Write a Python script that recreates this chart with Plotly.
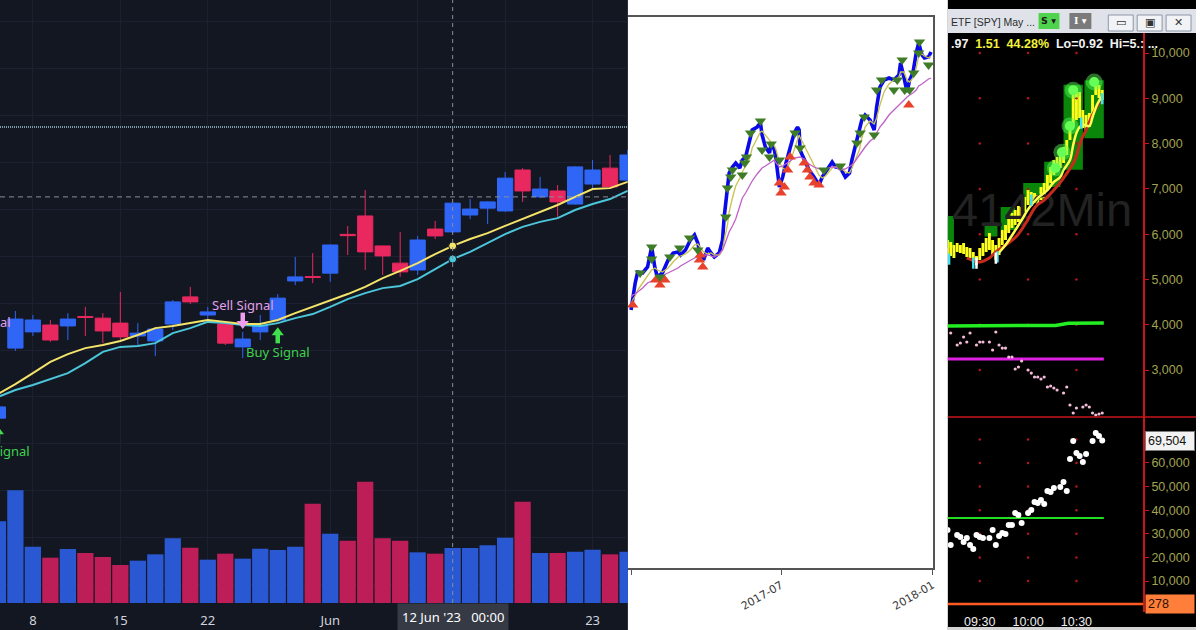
import numpy as np
import pandas as pd
import plotly.graph_objects as go

W, H = 1200, 630


def fx(px):
    return px / W


def fy(py):
    return 1 - py / H


# =========================== Panel A : daily candles (dark theme) ===========================
dates_a = ['2023-05-04', '2023-05-05', '2023-05-08', '2023-05-09', '2023-05-10', '2023-05-11',
           '2023-05-12', '2023-05-15', '2023-05-16', '2023-05-17', '2023-05-18', '2023-05-19',
           '2023-05-22', '2023-05-23', '2023-05-24', '2023-05-25', '2023-05-26', '2023-05-30',
           '2023-05-31', '2023-06-01', '2023-06-02', '2023-06-05', '2023-06-06', '2023-06-07',
           '2023-06-08', '2023-06-09', '2023-06-12', '2023-06-13', '2023-06-14', '2023-06-15',
           '2023-06-16', '2023-06-20', '2023-06-21', '2023-06-22', '2023-06-23', '2023-06-26',
           '2023-06-27']
open_a = [293.2, 315.6, 320.8, 323.0, 322.7, 325.7, 325.2, 323.6, 319.5, 317.9, 323.3, 332.0,
          326.2, 323.3, 316.0, 320.8, 324.6, 337.1, 338.5, 339.6, 352.0, 357.9, 348.3, 342.8,
          340.6, 353.7, 352.8, 358.2, 360.4, 359.5, 372.6, 364.0, 365.9, 361.7, 368.1, 373.2, 369.4]
high_a = [297.7, 327.5, 326.2, 324.6, 326.8, 328.8, 326.8, 333.6, 323.6, 322.4, 331.0, 335.2,
          328.8, 323.6, 320.8, 326.2, 332.9, 344.8, 346.0, 348.8, 354.7, 366.2, 348.4, 352.8,
          351.5, 356.3, 362.2, 363.3, 362.6, 372.0, 373.2, 370.4, 367.8, 373.8, 375.8, 377.4, 379.0]
low_a = [292.3, 314.7, 319.5, 317.6, 318.2, 319.5, 317.2, 318.2, 316.6, 313.1, 321.4, 329.7,
         324.6, 316.6, 312.4, 318.2, 324.0, 335.8, 336.4, 336.8, 345.4, 340.6, 339.0, 338.4,
         339.0, 350.5, 352.4, 356.9, 355.3, 359.2, 362.4, 363.6, 357.6, 361.5, 366.8, 367.0, 368.8]
close_a = [296.8, 324.9, 324.6, 318.2, 324.9, 325.4, 321.1, 319.2, 320.4, 321.7, 330.4, 330.4,
           327.2, 317.2, 318.5, 322.7, 331.6, 338.4, 338.2, 348.6, 351.6, 346.4, 345.1, 340.0,
           350.2, 351.5, 362.0, 360.1, 362.4, 370.0, 365.9, 366.5, 362.4, 373.6, 372.6, 367.2, 377.4]
volume_a = [49.0, 67.6, 33.8, 27.2, 32.4, 30.0, 27.6, 22.8, 25.4, 29.2, 38.8, 33.2, 26.0, 29.6,
            26.6, 32.6, 31.8, 33.8, 59.6, 41.6, 37.4, 72.8, 38.8, 37.4, 30.4, 29.6, 33.0, 33.0,
            34.6, 39.2, 60.8, 30.0, 30.0, 30.8, 32.0, 29.2, 30.8]
ema_fast_a = [300.9, 304.1, 307.6, 311.2, 313.7, 315.6, 316.6, 317.9, 319.8, 322.0, 322.7, 323.6,
              324.6, 324.0, 323.3, 323.3, 324.6, 326.8, 328.8, 330.7, 332.9, 335.2, 338.0, 340.3,
              342.8, 345.7, 348.3, 350.5, 352.4, 354.7, 356.9, 359.2, 361.4, 364.0, 366.5, 366.8, 368.8]
ema_slow_a = [300.0, 302.2, 303.8, 305.7, 307.6, 310.8, 314.4, 316.0, 316.3, 317.2, 320.4, 322.0,
              324.0, 323.6, 323.0, 322.7, 323.6, 325.2, 326.5, 328.8, 331.3, 333.2, 334.8, 335.5,
              337.7, 340.9, 344.1, 346.4, 349.2, 352.1, 354.4, 356.0, 357.2, 359.8, 361.7, 363.3, 365.9]
tick_dates_a = ['2023-05-08', '2023-05-15', '2023-05-22', '2023-06-01', '2023-06-08', '2023-06-15', '2023-06-23']
tick_text_a = ['8', '15', '22', 'Jun', '', '', '23']
crosshair_date_a = '2023-06-12'
crosshair_label_a = "12 Jun '23&nbsp;&nbsp;&nbsp;00:00"
crosshair_price_a = 364.0
last_price_line_a = 386.4
buy_signal_dates_a = ['2023-05-04', '2023-05-26']
buy_label_price_a = [282.6, 314.3]
sell_signal_dates_a = ['2023-05-03', '2023-05-24']
sell_label_price_a = [324.0, 329.4]

# =========================== Panel B : 2017 price with MAs (white) ===========================
dates_b = ['2016-12-31', '2017-01-02', '2017-01-05', '2017-01-08', '2017-01-14', '2017-01-20',
           '2017-01-25', '2017-01-29', '2017-02-01', '2017-02-07', '2017-02-14', '2017-02-20',
           '2017-02-26', '2017-03-01', '2017-03-07', '2017-03-13', '2017-03-18', '2017-03-22',
           '2017-03-25', '2017-03-29', '2017-04-03', '2017-04-07', '2017-04-11', '2017-04-17',
           '2017-04-21', '2017-04-23', '2017-04-27', '2017-04-29', '2017-05-03', '2017-05-07',
           '2017-05-12', '2017-05-15', '2017-05-19', '2017-05-24', '2017-05-27', '2017-06-02',
           '2017-06-06', '2017-06-08', '2017-06-12', '2017-06-17', '2017-06-19', '2017-06-23',
           '2017-06-25', '2017-06-29', '2017-07-03', '2017-07-07', '2017-07-12', '2017-07-17',
           '2017-07-21', '2017-07-23', '2017-07-24', '2017-07-29', '2017-08-04', '2017-08-10',
           '2017-08-16', '2017-08-20', '2017-08-24', '2017-08-28', '2017-09-01', '2017-09-05',
           '2017-09-11', '2017-09-17', '2017-09-22', '2017-09-25', '2017-09-29', '2017-10-04',
           '2017-10-07', '2017-10-11', '2017-10-17', '2017-10-22', '2017-10-25', '2017-10-29',
           '2017-11-03', '2017-11-09', '2017-11-15', '2017-11-21', '2017-11-23', '2017-11-27',
           '2017-12-01', '2017-12-04', '2017-12-08', '2017-12-12', '2017-12-15', '2017-12-19',
           '2017-12-22', '2017-12-27', '2017-12-30']
price_b = [71.6, 74.2, 77.0, 79.2, 79.0, 80.2, 84.2, 80.0, 78.2, 79.0, 81.6, 83.0, 83.2, 82.6,
           83.6, 85.6, 86.6, 85.0, 82.6, 81.6, 84.0, 83.0, 82.2, 83.0, 85.6, 90.2, 96.2, 99.0,
           100.2, 101.0, 100.0, 101.6, 102.2, 105.6, 107.6, 108.2, 109.0, 106.6, 104.2, 103.0,
           105.0, 103.6, 101.6, 96.2, 98.2, 101.0, 104.2, 107.0, 108.2, 107.6, 103.6, 101.6,
           99.6, 98.2, 96.6, 98.2, 99.2, 100.2, 101.2, 100.2, 100.0, 98.2, 99.0, 101.6, 104.2,
           107.0, 109.6, 110.6, 109.6, 107.6, 112.2, 116.2, 117.6, 118.0, 117.6, 118.6, 121.0,
           118.2, 115.2, 117.6, 119.0, 123.0, 125.0, 122.6, 122.0, 122.2, 123.2]
ma_short_b = [72.6, 73.6, 74.4, 75.6, 77.0, 78.4, 79.6, 80.0, 79.6, 79.2, 80.0, 81.2, 82.2, 82.4,
              82.8, 83.6, 84.6, 84.8, 84.2, 83.2, 82.8, 83.0, 82.6, 82.6, 83.6, 85.6, 88.6, 91.2,
              94.0, 96.4, 98.0, 99.2, 100.4, 102.0, 104.0, 106.0, 107.2, 107.4, 106.6, 105.4,
              105.2, 104.4, 103.6, 101.2, 100.0, 99.6, 101.2, 103.6, 105.6, 106.6, 106.2, 104.6,
              102.6, 100.6, 98.6, 98.0, 98.4, 99.2, 100.0, 100.2, 100.2, 99.2, 99.0, 100.0, 101.6,
              103.6, 106.0, 108.2, 109.4, 108.8, 110.0, 112.6, 115.2, 116.8, 117.6, 118.2, 119.2,
              119.2, 117.6, 117.2, 118.0, 120.0, 122.4, 122.8, 122.4, 122.0, 122.4]
ma_long_b = [74.2, 74.6, 74.8, 75.2, 76.0, 77.0, 77.4, 77.8, 78.0, 78.4, 79.0, 79.6, 80.0, 80.4,
             81.0, 81.6, 82.0, 82.2, 82.4, 82.6, 82.6, 82.4, 82.2, 82.8, 83.6, 84.4, 86.2, 87.2,
             88.4, 89.8, 92.4, 94.0, 95.0, 96.6, 97.4, 98.8, 99.6, 100.0, 100.4, 101.0, 101.2,
             101.6, 101.0, 100.2, 100.4, 100.8, 101.4, 102.0, 102.2, 102.2, 102.2, 101.8, 100.8,
             100.2, 99.8, 99.6, 99.8, 100.0, 100.2, 100.2, 99.6, 99.8, 100.2, 100.6, 101.4, 102.6,
             103.4, 104.2, 105.4, 106.0, 107.0, 108.2, 109.2, 110.6, 111.6, 112.6, 113.0, 113.6,
             114.2, 114.6, 115.0, 115.6, 116.4, 116.8, 117.2, 117.8, 118.0]
sell_mark_dates_b = ['2017-01-11', '2017-01-25', '2017-01-25', '2017-02-04', '2017-02-16', '2017-02-28',
                     '2017-03-12', '2017-03-22', '2017-04-25', '2017-04-27', '2017-05-01', '2017-05-03',
                     '2017-05-15', '2017-05-18', '2017-05-20', '2017-05-25', '2017-06-06', '2017-06-08',
                     '2017-06-17', '2017-06-19', '2017-06-29', '2017-07-18', '2017-07-24', '2017-08-22',
                     '2017-09-11', '2017-10-01', '2017-10-05', '2017-10-10', '2017-10-22', '2017-10-25',
                     '2017-10-31', '2017-11-15', '2017-11-19', '2017-11-25', '2017-11-28', '2017-12-04',
                     '2017-12-09', '2017-12-15', '2017-12-16', '2017-12-27']
sell_mark_vals_b = [79.0, 84.2, 81.8, 78.2, 82.2, 84.0, 86.0, 83.6, 90.2, 96.0, 98.2, 99.6, 98.6,
                    101.0, 102.2, 107.0, 109.4, 103.6, 102.2, 104.8, 101.6, 107.0, 104.0, 99.6,
                    100.4, 105.0, 107.0, 110.2, 106.6, 115.6, 117.6, 115.6, 117.6, 121.6, 115.6,
                    115.6, 119.0, 123.0, 125.2, 120.6]
buy_mark_dates_b = ['2017-01-02', '2017-01-30', '2017-02-04', '2017-02-10', '2017-03-24', '2017-03-25',
                    '2017-03-28', '2017-06-29', '2017-07-01', '2017-07-05', '2017-07-09', '2017-07-12',
                    '2017-07-29', '2017-08-02', '2017-08-05', '2017-08-10', '2017-08-16', '2017-12-03']
buy_mark_vals_b = [72.6, 77.6, 76.6, 77.6, 81.6, 82.6, 80.2, 97.0, 95.0, 96.2, 99.6, 102.2, 101.0,
                   99.6, 98.2, 97.0, 96.6, 112.6]
tick_dates_b = ['2017-01-01', '2017-07-01', '2018-01-01']
tick_text_b = ['', '2017-07', '2018-01']

# =========================== Panel C : intraday 2-min (black) ===========================
day_c = '2021-05-14'
bar_times_c = ['09:10', '09:12', '09:14', '09:16', '09:18', '09:20', '09:22', '09:24', '09:26', '09:28',
               '09:30', '09:32', '09:34', '09:36', '09:38', '09:40', '09:42', '09:44', '09:46', '09:48',
               '09:50', '09:52', '09:54', '09:56', '09:58', '10:00', '10:02', '10:04', '10:06', '10:08',
               '10:10', '10:12', '10:14', '10:16', '10:18', '10:20', '10:22', '10:24', '10:26', '10:28',
               '10:30', '10:32', '10:34', '10:36', '10:38', '10:40', '10:42', '10:44', '10:46']
bar_hi_c = [5871, 5827, 5761, 5805, 5761, 5805, 5716, 5694, 5606, 5518, 5694, 5805, 5915, 6026, 5871,
            5761, 5915, 6092, 6202, 6357, 6467, 6534, 6622, 6600, 6820, 6975, 6931, 6909, 6864, 7041,
            7130, 7306, 7483, 7637, 7704, 7814, 7924, 8079, 8454, 9073, 9227, 9139, 8741, 8631, 8675,
            9073, 9360, 9293, 9183]
bar_lo_c = [5540, 5518, 5474, 5606, 5584, 5562, 5496, 5474, 5385, 5319, 5429, 5518, 5606, 5650, 5540,
            5429, 5540, 5761, 5871, 6026, 6136, 6202, 6268, 6313, 6489, 6644, 6622, 6688, 6644, 6754,
            6798, 6975, 7130, 7306, 7372, 7461, 7571, 7748, 8079, 8410, 8521, 8565, 8344, 8300, 8366,
            8631, 9073, 9006, 8962]
box_start_c = ['09:09', '09:33', '09:43', '09:57', '10:10', '10:22', '10:35']
box_end_c = ['09:14', '09:41', '09:52', '10:10', '10:20', '10:34', '10:47']
box_lo_c = [5700, 5950, 6090, 6750, 7040, 7420, 8120]
box_hi_c = [6400, 6250, 6600, 7130, 7600, 9300, 9400]
ma_yellow_t_c = ['09:40', '09:46', '09:51', '09:56', '10:01', '10:06', '10:12', '10:16', '10:20', '10:22',
                 '10:26', '10:28', '10:30', '10:32', '10:35', '10:38', '10:40', '10:43', '10:46']
ma_yellow_v_c = [5518, 5761, 6026, 6313, 6600, 6798, 6975, 7152, 7262, 7417, 7637, 7969, 8234, 8366,
                 8410, 8388, 8587, 8874, 9051]
ma_red_t_c = ['09:22', '09:30', '09:36', '09:40', '09:47', '09:53', '09:59', '10:05', '10:10', '10:16',
              '10:22', '10:29', '10:33', '10:36', '10:40', '10:45']
ma_red_v_c = [5474, 5385, 5474, 5606, 5783, 5959, 6268, 6622, 6754, 6975, 7240, 7637, 8079, 8300, 8631, 8962]
cyan_t_c = ['09:11', '09:26', '09:41', '10:02', '10:33', '10:46']
cyan_v_c = [5450, 5360, 5500, 6750, 8450, 8990]
white_mark_t_c = ['09:28', '09:40']
white_mark_v_c = [5360, 5470]
peak_t_c = ['10:17', '10:21', '10:26', '10:28', '10:41']
peak_v_c = [7460, 7810, 8390, 9180, 9360]
pink_t_c = ['09:12', '09:16', '09:18', '09:20', '09:22', '09:24', '09:28', '09:30', '09:32', '09:36',
            '09:38', '09:40', '09:42', '09:44', '09:46', '09:48', '09:50', '09:52', '09:54', '09:56',
            '10:00', '10:02', '10:04', '10:06', '10:08', '10:10', '10:12', '10:14', '10:16', '10:18',
            '10:22', '10:24', '10:26', '10:28', '10:30', '10:34', '10:36', '10:38', '10:40', '10:42',
            '10:44', '10:46']
pink_v_c = [3818, 3553, 3597, 3729, 3619, 3818, 3553, 3619, 3619, 3619, 3442, 3840, 3553, 3486, 3486,
            3288, 3288, 3023, 3067, 3199, 3001, 2934, 2846, 2846, 2802, 2846, 2625, 2647, 2603, 2559,
            2493, 2625, 2228, 2051, 2162, 2184, 2228, 2184, 2051, 2007, 2029, 2051]
green_hl_t_c = ['09:09', '10:17', '10:25', '10:47']
green_hl_v_c = [3975, 3985, 4035, 4040]
magenta_hl_t_c = ['09:09', '10:47']
magenta_hl_v_c = [3243, 3243]
cum_t_c = ['09:10', '09:12', '09:16', '09:18', '09:20', '09:22', '09:24', '09:26', '09:28', '09:30',
           '09:32', '09:36', '09:38', '09:40', '09:42', '09:44', '09:46', '09:48', '09:50', '09:52',
           '09:54', '09:56', '10:00', '10:02', '10:04', '10:06', '10:08', '10:10', '10:12', '10:14',
           '10:16', '10:20', '10:22', '10:24', '10:26', '10:28', '10:30', '10:32', '10:34', '10:36',
           '10:40', '10:42', '10:44', '10:46']
cum_v_c = [31608, 25253, 29490, 28642, 26524, 28218, 25253, 23558, 29490, 28642, 28218, 28218, 31608,
           25253, 29066, 30337, 29913, 33727, 33727, 38811, 37964, 34574, 38811, 40082, 43472, 43048,
           44319, 42624, 48132, 47709, 49403, 49827, 51946, 48132, 61691, 69317, 64233, 62962, 60420,
           63809, 69317, 72707, 71436, 69504]
green_low_t_c = ['09:09', '10:47']
green_low_v_c = [36700, 36700]
orange_level_c = 278
time_ticks_c = ['09:30', '10:00', '10:30']
price_ticks_c = [3000, 4000, 5000, 6000, 7000, 8000, 9000, 10000]
lower_ticks_c = [10000, 20000, 30000, 40000, 50000, 60000]
lower_dot_rows_c = [10000, 20000, 30000, 40000, 50000, 60000, 70000]
watermark_c = '4142Min'


def tc(t):
    return pd.Timestamp(f'{day_c} {t}')


# =========================== geometry ===========================
A_DX = [0.0, fx(630)]
A_DY = [fy(603), 1.0]
A_XR = [0.12, 36.02]
B_DX = [fx(630), fx(936)]
B_DY = [fy(568), fy(17)]
C_DX = [fx(951), fx(1147)]
C_DY_TOP = [fy(417), fy(33)]
C_DY_LOW = [fy(612), fy(417)]

BG_A = '#131722'
GRID_A = '#1c2030'
UP_A, DN_A = '#2f66f6', '#e8285f'
VUP_A, VDN_A = '#2a58d2', '#be1e58'
RED_C = '#c8141a'

fig = go.Figure()

# ---------------- Panel A traces ----------------
vol_colors = [VUP_A if c >= o else VDN_A for o, c in zip(open_a, close_a)]
fig.add_trace(go.Bar(x=dates_a, y=volume_a, marker=dict(color=vol_colors, line=dict(width=0)),
                     width=0.93, xaxis='x', yaxis='y', hoverinfo='skip'))
fig.add_trace(go.Candlestick(x=dates_a, open=open_a, high=high_a, low=low_a, close=close_a,
                             increasing=dict(line=dict(color=UP_A, width=1), fillcolor=UP_A),
                             decreasing=dict(line=dict(color=DN_A, width=1), fillcolor=DN_A),
                             whiskerwidth=0, xaxis='x', yaxis='y2', hoverinfo='skip'))
fig.add_trace(go.Scatter(x=dates_a, y=ema_slow_a, mode='lines', line=dict(color='#4cc6da', width=2),
                         xaxis='x', yaxis='y2', hoverinfo='skip'))
fig.add_trace(go.Scatter(x=dates_a, y=ema_fast_a, mode='lines', line=dict(color='#f4e46a', width=2),
                         xaxis='x', yaxis='y2', hoverinfo='skip'))
ci = dates_a.index(crosshair_date_a)
fig.add_trace(go.Scatter(x=[crosshair_date_a, crosshair_date_a], y=[ema_fast_a[ci], ema_slow_a[ci]],
                         mode='markers', marker=dict(size=8, color=['#f4e46a', '#4cc6da'],
                                                     line=dict(color=BG_A, width=1)),
                         xaxis='x', yaxis='y2', hoverinfo='skip'))
sell_in = [d for d in sell_signal_dates_a if d in dates_a]
buy_in = [d for d in buy_signal_dates_a if d in dates_a]
SELL_C, BUY_C = '#ee9ff0', '#3ee04c'
fig.add_trace(go.Scatter(x=sell_in, y=[high_a[dates_a.index(d)] + 4.6 for d in sell_in], mode='markers',
                         marker=dict(symbol='line-ns', size=7, line=dict(width=4.5, color=SELL_C)),
                         xaxis='x', yaxis='y2', hoverinfo='skip'))
fig.add_trace(go.Scatter(x=sell_in, y=[high_a[dates_a.index(d)] + 2.6 for d in sell_in], mode='markers',
                         marker=dict(symbol='triangle-down', size=10.5, color=SELL_C),
                         xaxis='x', yaxis='y2', hoverinfo='skip'))
fig.add_trace(go.Scatter(x=buy_in, y=[low_a[dates_a.index(d)] - 5.3 for d in buy_in], mode='markers',
                         marker=dict(symbol='line-ns', size=7, line=dict(width=4.5, color=BUY_C)),
                         xaxis='x', yaxis='y2', hoverinfo='skip'))
fig.add_trace(go.Scatter(x=buy_in, y=[low_a[dates_a.index(d)] - 3.4 for d in buy_in], mode='markers',
                         marker=dict(symbol='triangle-up', size=10.5, color=BUY_C),
                         xaxis='x', yaxis='y2', hoverinfo='skip'))

# ---------------- Panel B traces ----------------
fig.add_trace(go.Scatter(x=dates_b, y=price_b, mode='lines', line=dict(color='#0a0ae8', width=3.6),
                         xaxis='x2', yaxis='y3', hoverinfo='skip'))
fig.add_trace(go.Scatter(x=dates_b, y=ma_short_b, mode='lines', line=dict(color='#c9c24e', width=1.3),
                         xaxis='x2', yaxis='y3', hoverinfo='skip'))
fig.add_trace(go.Scatter(x=dates_b, y=ma_long_b, mode='lines', line=dict(color='#c060c8', width=1.3),
                         xaxis='x2', yaxis='y3', hoverinfo='skip'))
fig.add_trace(go.Scatter(x=buy_mark_dates_b, y=buy_mark_vals_b, mode='markers',
                         marker=dict(symbol='triangle-up', size=10, color='#e8412c'),
                         xaxis='x2', yaxis='y3', hoverinfo='skip'))
fig.add_trace(go.Scatter(x=sell_mark_dates_b, y=sell_mark_vals_b, mode='markers',
                         marker=dict(symbol='triangle-down', size=10, color='#3f7c28'),
                         xaxis='x2', yaxis='y3', hoverinfo='skip'))

# ---------------- Panel C traces ----------------
fig.add_trace(go.Scatter(x=[tc('11:04:36')], y=[6450], mode='text', text=[watermark_c],
                         textposition='middle left',
                         textfont=dict(family='Liberation Sans', size=47, color='#222222'),
                         xaxis='x3', yaxis='y4', hoverinfo='skip'))
gx, gy = [], []
for t in time_ticks_c:
    for v in price_ticks_c:
        gx.append(tc(t)); gy.append(v)
fig.add_trace(go.Scatter(x=gx, y=gy, mode='markers', marker=dict(size=2.5, color='#b01818'),
                         xaxis='x3', yaxis='y4', hoverinfo='skip'))
gx2, gy2 = [], []
for t in time_ticks_c:
    for v in lower_dot_rows_c:
        gx2.append(tc(t)); gy2.append(v)
fig.add_trace(go.Scatter(x=gx2, y=gy2, mode='markers', marker=dict(size=2.5, color='#b01818'),
                         xaxis='x3', yaxis='y5', hoverinfo='skip'))
bs = [tc(t) for t in box_start_c]
be = [tc(t) for t in box_end_c]
fig.add_trace(go.Bar(x=[s + (e - s) / 2 for s, e in zip(bs, be)],
                     y=[h - l for h, l in zip(box_hi_c, box_lo_c)], base=box_lo_c,
                     width=[(e - s).total_seconds() * 1000 for s, e in zip(bs, be)],
                     marker=dict(color='#0a870a', line=dict(width=0)),
                     xaxis='x3', yaxis='y4', hoverinfo='skip'))
fig.add_trace(go.Scatter(x=[tc(t) for t in ma_red_t_c], y=ma_red_v_c, mode='lines',
                         line=dict(color='#c82a1e', width=3, shape='spline'),
                         xaxis='x3', yaxis='y4', hoverinfo='skip'))
fig.add_trace(go.Bar(x=[tc(t) for t in bar_times_c], y=[h - l for h, l in zip(bar_hi_c, bar_lo_c)],
                     base=bar_lo_c, width=108000, marker=dict(color='#ffff1e', line=dict(width=0)),
                     xaxis='x3', yaxis='y4', hoverinfo='skip'))
fig.add_trace(go.Scatter(x=[tc(t) for t in ma_yellow_t_c], y=ma_yellow_v_c, mode='lines',
                         line=dict(color='#ffff50', width=2.5, shape='spline'),
                         xaxis='x3', yaxis='y4', hoverinfo='skip'))
fig.add_trace(go.Scatter(x=[tc(t) for t in cyan_t_c], y=cyan_v_c, mode='markers',
                         marker=dict(symbol='line-ns', size=8, line=dict(width=2.5, color='#40e0f0')),
                         xaxis='x3', yaxis='y4', hoverinfo='skip'))
fig.add_trace(go.Scatter(x=[tc(t) for t in white_mark_t_c], y=white_mark_v_c, mode='markers',
                         marker=dict(symbol='line-ns', size=8, line=dict(width=2.5, color='#ffffff')),
                         xaxis='x3', yaxis='y4', hoverinfo='skip'))
fig.add_trace(go.Scatter(x=[tc(t) for t in peak_t_c], y=peak_v_c, mode='markers',
                         marker=dict(size=17, color='rgba(90,255,90,0.45)'),
                         xaxis='x3', yaxis='y4', hoverinfo='skip'))
fig.add_trace(go.Scatter(x=[tc(t) for t in peak_t_c], y=peak_v_c, mode='markers',
                         marker=dict(size=10, color='#66ff55'),
                         xaxis='x3', yaxis='y4', hoverinfo='skip'))
fig.add_trace(go.Scatter(x=[tc(t) for t in green_hl_t_c], y=green_hl_v_c, mode='lines',
                         line=dict(color='#22ee22', width=3.5),
                         xaxis='x3', yaxis='y4', hoverinfo='skip'))
fig.add_trace(go.Scatter(x=[tc(t) for t in magenta_hl_t_c], y=magenta_hl_v_c, mode='lines',
                         line=dict(color='#e020e0', width=3),
                         xaxis='x3', yaxis='y4', hoverinfo='skip'))
fig.add_trace(go.Scatter(x=[tc(t) for t in pink_t_c], y=pink_v_c, mode='markers',
                         marker=dict(size=3.2, color='#f2bcd8'),
                         xaxis='x3', yaxis='y4', hoverinfo='skip'))
fig.add_trace(go.Scatter(x=[tc(t) for t in green_low_t_c], y=green_low_v_c, mode='lines',
                         line=dict(color='#22dd22', width=2.2),
                         xaxis='x3', yaxis='y5', hoverinfo='skip'))
fig.add_trace(go.Scatter(x=[tc(t) for t in cum_t_c], y=cum_v_c, mode='markers',
                         marker=dict(size=6, color='#ffffff'),
                         xaxis='x3', yaxis='y5', hoverinfo='skip'))


# ---------------- shapes ----------------
def prect(x0, y0, x1, y1, fill, layer='below', line=None):
    return dict(type='rect', xref='paper', yref='paper', x0=fx(x0), x1=fx(x1), y0=fy(y1), y1=fy(y0),
                fillcolor=fill, layer=layer, line=line or dict(width=0))


shapes = [
    prect(0, 0, 630, 630, BG_A),
    prect(951, 0, 1200, 630, '#000000'),
    dict(type='line', xref='x', yref='paper', x0=ci, x1=ci, y0=A_DY[0], y1=1,
         line=dict(color='#8a8e99', width=1, dash='4px,4px'), layer='above'),
    dict(type='line', xref='x domain', yref='y2', x0=0, x1=1, y0=crosshair_price_a, y1=crosshair_price_a,
         line=dict(color='#8a8e99', width=1, dash='5px,4px'), layer='above'),
    dict(type='line', xref='x domain', yref='y2', x0=0, x1=1, y0=last_price_line_a, y1=last_price_line_a,
         line=dict(color='#7d9aa6', width=2, dash='1px,1px'), layer='above'),
    prect(951, 9, 1200, 33, '#dfe3e9', layer='above'),
    prect(1042, 13, 1063, 29, '#4fd34f', layer='above'),
    prect(1073, 13, 1095, 29, '#7a7a7a', layer='above'),
    prect(1112, 15, 1137, 31, '#f1f3f6', layer='above', line=dict(color='#8c97a6', width=1)),
    prect(1141, 15, 1166, 31, '#f1f3f6', layer='above', line=dict(color='#8c97a6', width=1)),
    prect(1170, 15, 1195, 31, '#f1f3f6', layer='above', line=dict(color='#8c97a6', width=1)),
    dict(type='line', xref='paper', yref='paper', x0=fx(951), x1=1, y0=fy(417), y1=fy(417),
         line=dict(color=RED_C, width=1.5), layer='above'),
    dict(type='line', xref='x3 domain', yref='y5', x0=0, x1=1, y0=orange_level_c, y1=orange_level_c,
         line=dict(color='#ff5a22', width=2.5), layer='above'),
    prect(951, 627, 1200, 630, '#d4d4d4', layer='above'),
]


def cat_paper(d):
    idx = dates_a.index(d) if d in dates_a else -int(np.busday_count(d, dates_a[0]))
    return A_DX[0] + (idx - A_XR[0]) / (A_XR[1] - A_XR[0]) * (A_DX[1] - A_DX[0])


ann = []
for d, p in zip(sell_signal_dates_a, sell_label_price_a):
    ann.append(dict(xref='paper', yref='y2', x=cat_paper(d), y=p, text='Sell Signal', showarrow=False,
                    font=dict(family='Noto Sans', size=13, color='#e2a0ea'), xanchor='center', yanchor='middle'))
for d, p in zip(buy_signal_dates_a, buy_label_price_a):
    ann.append(dict(xref='paper', yref='y2', x=cat_paper(d), y=p, text='Buy Signal', showarrow=False,
                    font=dict(family='Noto Sans', size=13, color='#3fd24c'), xanchor='center', yanchor='middle'))
ann.append(dict(xref='x', yref='paper', x=ci, y=fy(617), text=crosshair_label_a, showarrow=False,
                bgcolor='#363a45', borderpad=4, font=dict(family='Noto Sans', size=13, color='#ffffff'),
                xanchor='center', yanchor='middle'))
ann.append(dict(xref='paper', yref='paper', x=fx(952), y=fy(22), text='ETF [SPY] May ...', showarrow=False,
                xanchor='left', yanchor='middle', font=dict(family='Liberation Sans', size=10.5, color='#2c2c2c')))
ann.append(dict(xref='paper', yref='paper', x=fx(1052.5), y=fy(21), text='<b>S ▾</b>', showarrow=False,
                xanchor='center', yanchor='middle', font=dict(family='DejaVu Sans', size=9.5, color='#1a1a1a')))
ann.append(dict(xref='paper', yref='paper', x=fx(1084), y=fy(21), text='<b>I ▾</b>', showarrow=False,
                xanchor='center', yanchor='middle', font=dict(family='DejaVu Serif', size=9.5, color='#ffffff')))
for xc, sym in [(1124.5, '▭'), (1153.5, '▣'), (1182.5, '✕')]:
    ann.append(dict(xref='paper', yref='paper', x=fx(xc), y=fy(23), text=sym, showarrow=False,
                    xanchor='center', yanchor='middle', font=dict(family='DejaVu Sans', size=11, color='#333333')))
ann.append(dict(xref='paper', yref='paper', x=fx(952), y=fy(44),
                text="<b>.97&nbsp;&nbsp;<span style='color:#f3f33a'>1.51&nbsp;&nbsp;44.28%</span>"
                     "&nbsp;&nbsp;Lo=0.92&nbsp;&nbsp;Hi=5.: ...</b>",
                showarrow=False, xanchor='left', yanchor='middle',
                font=dict(family='Liberation Sans', size=12.5, color='#f2f2f2')))
ann.append(dict(xref='paper', yref='y5', x=fx(1149), y=cum_v_c[-1], text='69,504', showarrow=False,
                xanchor='left', yanchor='middle', bgcolor='#f2f2f2', bordercolor='#7a7a7a', borderwidth=1,
                borderpad=2, width=44, align='left',
                font=dict(family='Liberation Sans', size=12.5, color='#111111')))
ann.append(dict(xref='paper', yref='y5', x=fx(1149), y=orange_level_c, text='278', showarrow=False,
                xanchor='left', yanchor='middle', bgcolor='#ff7f3a', borderpad=2, width=44, align='left',
                font=dict(family='Liberation Sans', size=12.5, color='#2a1000')))

tick_font_c = dict(family='Liberation Sans', size=12.5, color='#a3a352')

fig.update_layout(
    width=W, height=H, margin=dict(l=0, r=0, t=0, b=0),
    paper_bgcolor='#ffffff', plot_bgcolor='rgba(0,0,0,0)',
    showlegend=False, barmode='overlay', boxgap=0.13, boxgroupgap=0.0,
    font=dict(family='Liberation Sans'),
    shapes=shapes, annotations=ann,
    xaxis=dict(domain=A_DX, anchor='y', type='category', range=A_XR, showgrid=True, gridcolor=GRID_A,
               tickvals=tick_dates_a, ticktext=tick_text_a, ticks='outside', ticklen=5,
               tickcolor='rgba(0,0,0,0)', tickfont=dict(family='Noto Sans', size=13, color='#d1d4dc'),
               showline=False, zeroline=False, rangeslider=dict(visible=False)),
    yaxis=dict(domain=A_DY, anchor='x', range=[0, 361.8], showgrid=False, showticklabels=False,
               zeroline=False, ticks=''),
    yaxis2=dict(overlaying='y', anchor='x', range=[234.04, 427.0], showgrid=True, gridcolor=GRID_A,
                tick0=0, dtick=15, showticklabels=False, zeroline=False, ticks=''),
    xaxis2=dict(domain=B_DX, anchor='y3', type='date', range=['2016-12-27 04:00', '2018-01-01 06:00'],
                showgrid=False, showline=True, linecolor='#555555', linewidth=1.5, mirror=True,
                ticks='outside', ticklen=5, tickcolor='#555555', tickvals=tick_dates_b, ticktext=tick_text_b,
                tickangle=-30, tickfont=dict(family='DejaVu Sans', size=11, color='#3a3a3a'), zeroline=False),
    yaxis3=dict(domain=B_DY, anchor='x2', range=[20, 130.2], side='right', showline=True,
                linecolor='#555555', linewidth=1.5, showgrid=False, showticklabels=False, ticks='',
                zeroline=False),
    xaxis3=dict(domain=C_DX, anchor='y5', type='date',
                range=[f'{day_c} 09:10:13', f'{day_c} 11:11:25'], showgrid=False, showline=False,
                zeroline=False, tickvals=[tc(t) for t in time_ticks_c], ticktext=time_ticks_c, ticks='',
                tickfont=dict(family='Liberation Sans', size=12.5, color='#eeeeee')),
    yaxis4=dict(domain=C_DY_TOP, anchor='x3', side='right', range=[1963, 10442], showline=True,
                linecolor=RED_C, linewidth=1.5, ticks='outside', ticklen=4, tickcolor=RED_C,
                tickvals=price_ticks_c, ticktext=[f'{v:,}' for v in price_ticks_c], tickfont=tick_font_c,
                showgrid=False, zeroline=False),
    yaxis5=dict(domain=C_DY_LOW, anchor='x3', side='right', range=[-3135, 79486], showline=True,
                linecolor=RED_C, linewidth=1.5, ticks='outside', ticklen=4, tickcolor=RED_C,
                tickvals=lower_ticks_c, ticktext=[f'{v:,}' for v in lower_ticks_c], tickfont=tick_font_c,
                showgrid=False, zeroline=False),
)

fig.write_html('out.html')
